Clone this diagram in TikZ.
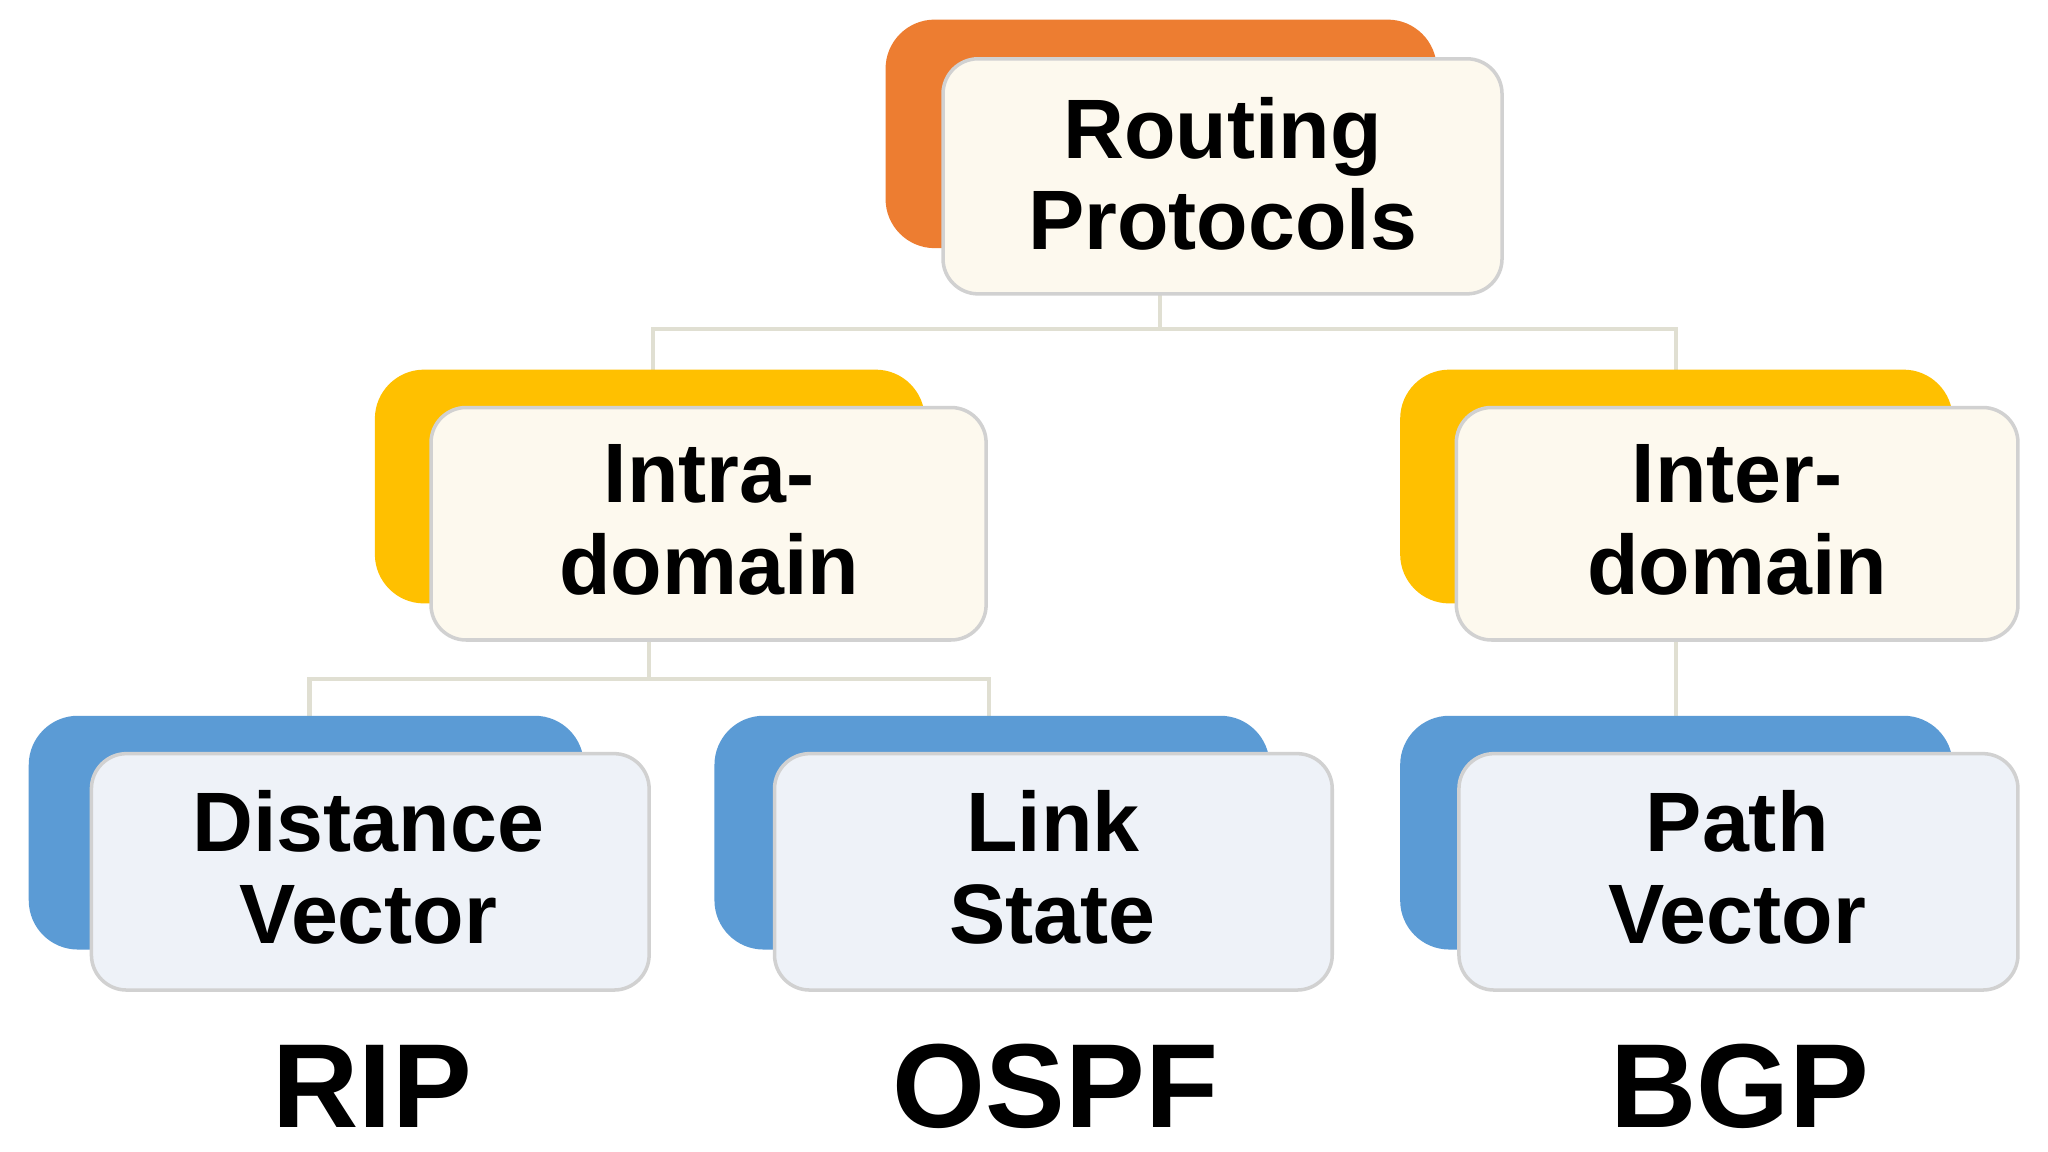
\documentclass[tikz,border=0pt]{standalone}
\usepackage{fontspec}
\setmainfont{Liberation Sans}
\begin{document}
\begin{tikzpicture}[x=0.01306cm,y=-0.01306cm,
  back/.style={rounded corners=14pt,draw=none},
  front/.style={rounded corners=10pt,draw=black!18,line width=1pt},
  boxtext/.style={font=\fontsize{24}{26}\selectfont\bfseries,align=center},
  leaf/.style={font=\fontsize{34}{36}\selectfont\bfseries},
  conn/.style={draw=yellow!30!black!20,line width=1.2pt}]
\definecolor{corange}{HTML}{ED7D31}
\definecolor{cyellow}{HTML}{FFC000}
\definecolor{cblue}{HTML}{5B9BD5}
\definecolor{cream}{HTML}{FDF9EE}
\definecolor{lblue}{HTML}{EEF2F8}
\useasboundingbox (0,0) rectangle (1568,882);
\fill[white] (0,0) rectangle (1568,882);
% connectors
\coordinate (j1) at (888,252);
\coordinate (j2) at (497,520);
\draw[conn] (888,225) -- (j1) -- (500,252) -- (500,285);
\draw[conn] (j1) -- (1283,252) -- (1283,285);
\draw[conn] (497,490) -- (j2) -- (237,520) -- (237,550);
\draw[conn] (j2) -- (757,520) -- (757,550);
\draw[conn] (1283,490) -- (1283,550);
% top
\fill[back,corange] (678,15) rectangle (1100,190);
\draw[front,fill=cream] (722,45) rectangle (1150,225);
\node[boxtext] (rp) at (936,133) {Routing\\Protocols};
% level 2
\fill[back,cyellow] (287,283) rectangle (708,462);
\draw[front,fill=cream] (330,312) rectangle (755,490);
\node[boxtext] (intra) at (543,398) {Intra-\\domain};
\fill[back,cyellow] (1072,283) rectangle (1495,462);
\draw[front,fill=cream] (1115,312) rectangle (1545,490);
\node[boxtext] (inter) at (1330,398) {Inter-\\domain};
% level 3
\fill[back,cblue] (22,548) rectangle (447,727);
\draw[front,fill=lblue] (70,577) rectangle (497,758);
\node[boxtext] (dv) at (282,664) {Distance\\Vector};
\fill[back,cblue] (547,548) rectangle (972,727);
\draw[front,fill=lblue] (593,577) rectangle (1020,758);
\node[boxtext] (ls) at (806,664) {Link\\State};
\fill[back,cblue] (1072,548) rectangle (1495,727);
\draw[front,fill=lblue] (1117,577) rectangle (1545,758);
\node[boxtext] (pv) at (1330,664) {Path\\Vector};
% leaves
\node[leaf] (rip) at (285,832) {RIP};
\node[leaf] (ospf) at (808,832) {OSPF};
\node[leaf] (bgp) at (1332,832) {BGP};
\end{tikzpicture}
\end{document}
